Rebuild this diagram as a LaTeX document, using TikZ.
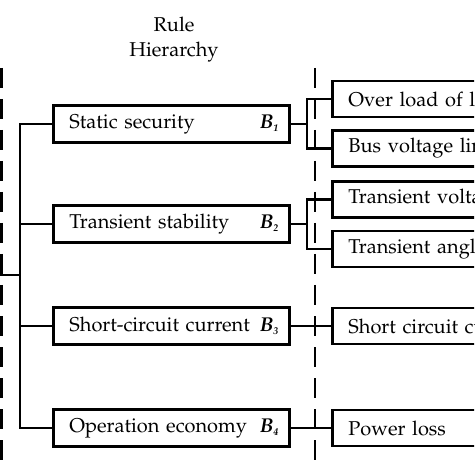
\documentclass[tikz,border=0pt]{standalone}
\usepackage[T1]{fontenc}
\renewcommand{\rmdefault}{ppl}

\newcommand{\rulelabel}[1]{\textbf{\textit{B}\textsubscript{\tiny\textit{#1}}}}

\begin{document}
\begin{tikzpicture}[x=0.5pt, y=-0.5pt, font=\fontsize{10}{12.5}\selectfont,
    rulebox/.style={draw, line width=1.4pt, minimum height=18.5pt, text width=108pt,
        inner xsep=5pt, inner ysep=0pt, align=left, anchor=west},
    itembox/.style={draw, line width=1.4pt, minimum height=18pt, text width=100pt,
        inner xsep=8pt, inner ysep=0pt, align=left, anchor=west},
    link/.style={line width=1.2pt},
    layer/.style={line width=1.2pt, dash pattern=on 10pt off 5.5pt}]
        \useasboundingbox (0, 0) rectangle (474, 474);
        \clip (0, 0) rectangle (474, 474);

        \node[align=center] (title) at (174, 40) {Rule\\Hierarchy};

        % layer borders
        \draw[layer, line width=2.2pt] (1, 68) -- (1, 463);
        \draw[layer] (315, 68) -- (315, 463);

        % rule boxes
        \node[rulebox] (b1) at (52, 124) {\hspace*{3pt}Static security\hfill\rulelabel{1}};
        \node[rulebox] (b2) at (52, 224) {\hspace*{3pt}Transient stability\hfill\rulelabel{2}};
        \node[rulebox] (b3) at (52, 326) {\hspace*{3pt}Short-circuit current\hfill\rulelabel{3}};
        \node[rulebox] (b4) at (52, 428) {\hspace*{3pt}Operation economy\hfill\rulelabel{4}};

        % item boxes
        \node[itembox] (c1) at (331, 99) {Over load of line};
        \node[itembox] (c2) at (331, 148.5) {Bus voltage limit};
        \node[itembox] (c3) at (331, 199.5) {Transient voltage};
        \node[itembox] (c4) at (331, 249) {Transient angle};
        \node[itembox] (c5) at (331, 326) {Short circuit current};
        \node[itembox] (c6) at (331, 428) {Power loss};

        % trunk
        \coordinate (root) at (0, 275);
        \coordinate (trunk) at (20, 275);
        \draw[link] (root) -- (trunk);
        \draw[link] (b1.west) -| (trunk) |- (b4.west);
        \draw[link] (trunk |- b2.west) -- (b2.west);
        \draw[link] (trunk |- b3.west) -- (b3.west);

        % branches
        \draw[link] (b1.east) -- (307, 124);
        \draw[link] (c1.west) -| (307, 124) |- (c2.west);
        \draw[link] (b2.east) -- (307, 224);
        \draw[link] (c3.west) -| (307, 224) |- (c4.west);
        \draw[link] (b3.east) -- (c5.west);
        \draw[link] (b4.east) -- (c6.west);
    \end{tikzpicture}
\end{document}
